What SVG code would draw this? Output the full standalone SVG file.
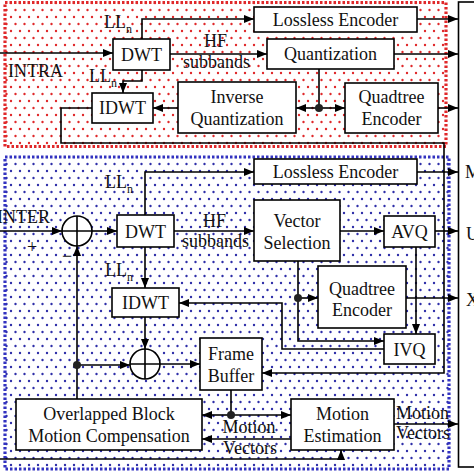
<svg xmlns="http://www.w3.org/2000/svg" width="474" height="474" viewBox="0 0 474 474">
<defs>
<pattern id="redDots" patternUnits="userSpaceOnUse" width="9" height="14">
<circle cx="2" cy="3" r="1.2" fill="#e0282a"/>
<circle cx="6.5" cy="10" r="1.2" fill="#e0282a"/>
</pattern>
<pattern id="blueDots" patternUnits="userSpaceOnUse" width="9" height="14">
<circle cx="2" cy="3" r="1.2" fill="#2e2ea8"/>
<circle cx="6.5" cy="10" r="1.2" fill="#2e2ea8"/>
</pattern>
<marker id="arr" markerUnits="userSpaceOnUse" markerWidth="11" markerHeight="9" refX="10" refY="4" orient="auto">
<path d="M0,0 L10,4 L0,8 z" fill="#000"/>
</marker>
</defs>
<style>
.box{fill:#fff;stroke:#000;stroke-width:1.6}
.ln{fill:none;stroke:#000;stroke-width:1.6}
.ar{fill:none;stroke:#000;stroke-width:1.6;marker-end:url(#arr)}
.t{font-family:"Liberation Serif","Times New Roman",serif;font-size:18px;fill:#111}
.c{text-anchor:middle}
.s{font-size:12px}
.dot{fill:#222}
</style>
<rect width="474" height="474" fill="#fff"/>
<!-- regions -->
<g id="intra-region">
<rect x="5" y="2.5" width="441" height="144" fill="url(#redDots)" stroke="#e0282a" stroke-width="3.2" stroke-dasharray="2.5 2"/>
</g>
<g id="inter-region">
<rect x="5" y="157" width="444" height="312" fill="url(#blueDots)" stroke="#3232c0" stroke-width="3.2" stroke-dasharray="2.5 2"/>
</g>
<!-- output block -->
<g id="output">
<rect x="458.5" y="2" width="30" height="465" class="box"/>
<text class="t" x="465" y="178">M</text>
<text class="t" x="466" y="240">U</text>
<text class="t" x="466" y="306">X</text>
</g>
<!-- connectors -->
<g id="connectors">
<!-- intra -->
<line x1="0" y1="53" x2="113" y2="53" class="ar"/>
<polyline points="142,39 142,19 254,19" class="ar"/>
<line x1="170" y1="54" x2="267" y2="54" class="ar"/>
<line x1="417" y1="19" x2="458" y2="19" class="ar"/>
<line x1="394" y1="54" x2="458" y2="54" class="ar"/>
<line x1="319" y1="69" x2="319" y2="108" class="ln"/>
<line x1="319" y1="108" x2="296" y2="108" class="ar"/>
<line x1="319" y1="108" x2="345" y2="108" class="ar"/>
<line x1="438" y1="108" x2="458" y2="108" class="ar"/>
<line x1="178" y1="108" x2="153" y2="108" class="ar"/>
<polyline points="142,70 142,81 123,81 123,93" class="ar"/>
<polyline points="92,108 61,108 61,143 444,143 444,373 262,373" class="ar"/>
<!-- inter -->
<line x1="0" y1="231" x2="62" y2="231" class="ar"/>
<line x1="92" y1="231" x2="117" y2="231" class="ar"/>
<polyline points="145,215 145,172 254,172" class="ar"/>
<line x1="417" y1="172" x2="458" y2="172" class="ar"/>
<line x1="174" y1="231" x2="254" y2="231" class="ar"/>
<line x1="340" y1="231" x2="384" y2="231" class="ar"/>
<line x1="435" y1="231" x2="458" y2="231" class="ar"/>
<line x1="416" y1="247" x2="416" y2="334" class="ar"/>
<line x1="298" y1="261" x2="298" y2="298" class="ln"/>
<line x1="298" y1="298" x2="318" y2="298" class="ar"/>
<polyline points="298,298 298,341 384,341" class="ar"/>
<line x1="406" y1="298" x2="458" y2="298" class="ar"/>
<polyline points="384,349 282,349 282,303 179,303" class="ar"/>
<line x1="145" y1="247" x2="145" y2="288" class="ar"/>
<line x1="145" y1="317" x2="145" y2="349" class="ar"/>
<line x1="160" y1="364" x2="200" y2="364" class="ar"/>
<line x1="77" y1="399" x2="77" y2="246" class="ar"/>
<line x1="77" y1="365" x2="130" y2="365" class="ar"/>
<line x1="231" y1="390" x2="231" y2="415" class="ln"/>
<line x1="231" y1="415" x2="202" y2="415" class="ar"/>
<line x1="231" y1="415" x2="291" y2="415" class="ar"/>
<line x1="291" y1="439" x2="202" y2="439" class="ar"/>
<polyline points="0,459 341,459 341,450" class="ar"/>
<line x1="394" y1="424" x2="458" y2="424" class="ar"/>
<circle cx="319" cy="108" r="4" class="dot"/>
<circle cx="298" cy="298" r="4" class="dot"/>
<circle cx="77" cy="365" r="4" class="dot"/>
<circle cx="231" cy="415" r="4" class="dot"/>
</g>
<!-- labels -->
<g id="labels">
<text class="t" x="104" y="28">LL</text><text class="t s" x="126" y="33">n</text>
<text class="t" x="89" y="82">LL</text><text class="t s" x="111" y="87">n</text>
<text class="t" x="8" y="77">INTRA</text>
<text class="t" x="204" y="47">HF</text>
<text class="t" x="183" y="68">subbands</text>
<text class="t" x="-3" y="223">INTER</text>
<text class="t" x="27" y="253">+</text>
<text class="t" x="62" y="262">−</text>
<text class="t" x="105" y="188">LL</text><text class="t s" x="127" y="193">n</text>
<text class="t" x="105" y="276">LL</text><text class="t s" x="127" y="281">n</text>
<text class="t" x="203" y="227">HF</text>
<text class="t" x="182" y="247">subbands</text>
<text class="t c" x="249" y="433">Motion</text>
<text class="t c" x="250" y="454">Vectors</text>
<text class="t" x="396" y="419">Motion</text>
<text class="t" x="396" y="439">Vectors</text>
</g>
<!-- nodes -->
<g id="dwt-intra"><rect x="113" y="39" width="57" height="31" class="box"/><text class="t c" x="141.5" y="61">DWT</text></g>
<g id="lossless-intra"><rect x="254" y="7" width="163" height="25" class="box"/><text class="t c" x="335.5" y="26">Lossless Encoder</text></g>
<g id="quantization"><rect x="267" y="39" width="127" height="30" class="box"/><text class="t c" x="330.5" y="60">Quantization</text></g>
<g id="inverse-quantization"><rect x="178" y="82" width="118" height="51" class="box"/><text class="t c" x="237" y="103">Inverse</text><text class="t c" x="237" y="125">Quantization</text></g>
<g id="quadtree-intra"><rect x="345" y="83" width="93" height="50" class="box"/><text class="t c" x="391.5" y="103">Quadtree</text><text class="t c" x="391.5" y="125">Encoder</text></g>
<g id="idwt-intra"><rect x="92" y="93" width="61" height="30" class="box"/><text class="t c" x="122.5" y="114">IDWT</text></g>
<g id="adder-1"><circle cx="77" cy="231" r="15" class="box"/><path d="M62,231 H92 M77,216 V246" class="ln"/></g>
<g id="dwt-inter"><rect x="117" y="215" width="57" height="32" class="box"/><text class="t c" x="145.5" y="238">DWT</text></g>
<g id="lossless-inter"><rect x="254" y="159" width="163" height="25" class="box"/><text class="t c" x="335.5" y="178">Lossless Encoder</text></g>
<g id="vector-selection"><rect x="254" y="200" width="86" height="61" class="box"/><text class="t c" x="297" y="227">Vector</text><text class="t c" x="297" y="249">Selection</text></g>
<g id="avq"><rect x="384" y="216" width="51" height="31" class="box"/><text class="t c" x="409.5" y="238">AVQ</text></g>
<g id="quadtree-inter"><rect x="318" y="266" width="88" height="62" class="box"/><text class="t c" x="362" y="295">Quadtree</text><text class="t c" x="362" y="316">Encoder</text></g>
<g id="ivq"><rect x="384" y="334" width="51" height="30" class="box"/><text class="t c" x="409.5" y="356">IVQ</text></g>
<g id="idwt-inter"><rect x="112" y="288" width="67" height="29" class="box"/><text class="t c" x="145.5" y="309">IDWT</text></g>
<g id="adder-2"><circle cx="145" cy="364" r="15" class="box"/><path d="M130,364 H160 M145,349 V379" class="ln"/></g>
<g id="frame-buffer"><rect x="200" y="338" width="62" height="52" class="box"/><text class="t c" x="231" y="360">Frame</text><text class="t c" x="231" y="382">Buffer</text></g>
<g id="obmc"><rect x="16" y="399" width="186" height="51" class="box"/><text class="t c" x="109" y="420">Overlapped Block</text><text class="t c" x="109" y="442">Motion Compensation</text></g>
<g id="motion-estimation"><rect x="291" y="399" width="103" height="51" class="box"/><text class="t c" x="342.5" y="420">Motion</text><text class="t c" x="342.5" y="442">Estimation</text></g>
</svg>
